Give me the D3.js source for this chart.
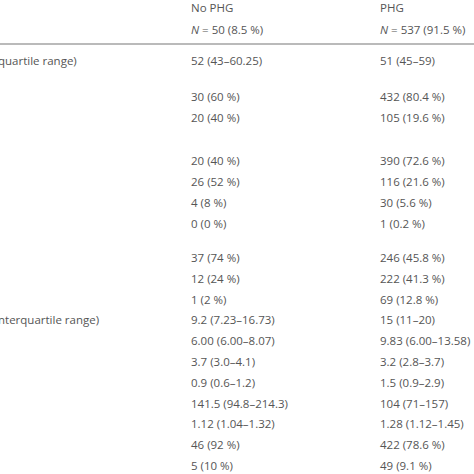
<!DOCTYPE html>
<html><head><meta charset="utf-8">
<script src="https://cdn.jsdelivr.net/npm/d3@7"></script>
<style>body{margin:0;background:#fff}</style></head>
<body><svg id="t" width="474" height="474"></svg>
<script>
const headers = ["No PHG", "PHG"];
const totals = [["50", "8.5 %"], ["537", "91.5 %"]];
const rowLabels = [[0, "quartile range)"], [13, "nterquartile range)"]];
const slots = [0, 2, 3, 5, 6, 7, 8, 10, 11, 12, 13, 14, 15, 16, 17, 18, 19, 20];
const noPhg = ["52 (43–60.25)", "30 (60 %)", "20 (40 %)", "20 (40 %)", "26 (52 %)", "4 (8 %)", "0 (0 %)",
  "37 (74 %)", "12 (24 %)", "1 (2 %)", "9.2 (7.23–16.73)", "6.00 (6.00–8.07)", "3.7 (3.0–4.1)", "0.9 (0.6–1.2)",
  "141.5 (94.8–214.3)", "1.12 (1.04–1.32)", "46 (92 %)", "5 (10 %)"];
const phg = ["51 (45–59)", "432 (80.4 %)", "105 (19.6 %)", "390 (72.6 %)", "116 (21.6 %)", "30 (5.6 %)", "1 (0.2 %)",
  "246 (45.8 %)", "222 (41.3 %)", "69 (12.8 %)", "15 (11–20)", "9.83 (6.00–13.58)", "3.2 (2.8–3.7)", "1.5 (0.9–2.9)",
  "104 (71–157)", "1.28 (1.12–1.45)", "422 (78.6 %)", "49 (9.1 %)"];

const svg = d3.select("#t").style("font-family", "'Open Sans', sans-serif").style("font-size", "11.5px");
const x = d3.scaleOrdinal().domain(["label", ...headers]).range([-2, 191, 380]);
const y = d3.scaleLinear().domain([0, 2, 8, 10, 20]).range([61, 97, 224, 258, 466]);

svg.selectAll(".h").data(headers).enter().append("text")
  .attr("x", d => x(d)).attr("y", 8).attr("dy", "0.35em").attr("fill", "#555").text(d => d);
const tot = svg.selectAll(".n").data(totals).enter().append("text")
  .attr("x", (d, i) => x(headers[i])).attr("y", 30).attr("dy", "0.35em").attr("fill", "#555");
tot.append("tspan").attr("font-style", "italic").text("N");
tot.append("tspan").text(d => ` = ${d[0]} (${d[1]})`);
svg.append("line").attr("x1", 0).attr("x2", 474).attr("y1", 44).attr("y2", 44)
  .attr("stroke", "#777").attr("stroke-width", 1.2);

svg.selectAll(".l").data(rowLabels).enter().append("text")
  .attr("x", x("label")).attr("y", d => y(d[0])).attr("dy", "0.35em").attr("fill", "#555").text(d => d[1]);
[noPhg, phg].forEach((col, c) => {
  svg.selectAll(".c" + c).data(col).enter().append("text")
    .attr("x", x(headers[c])).attr("y", (d, i) => y(slots[i])).attr("dy", "0.35em")
    .attr("fill", "#555").text(d => d);
});
</script></body></html>
